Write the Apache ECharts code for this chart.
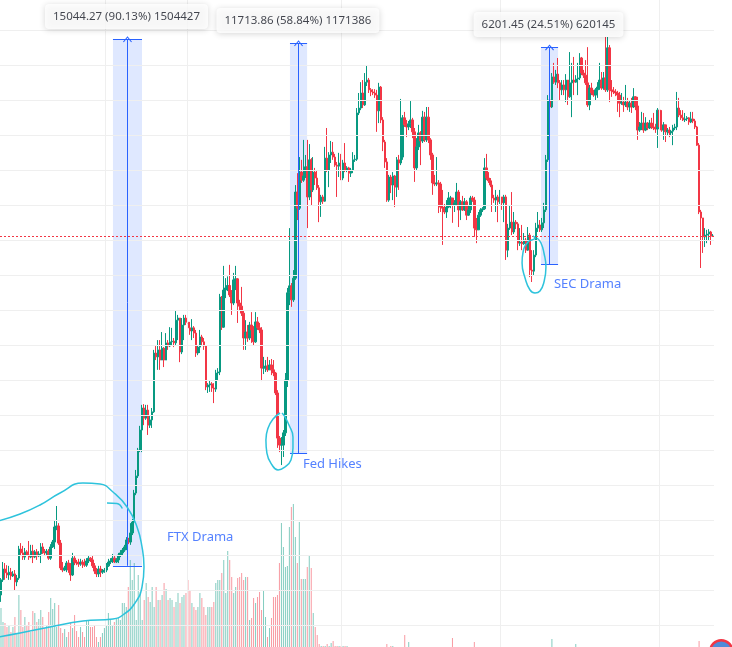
<!DOCTYPE html>
<html><head><meta charset="utf-8">
<script src="https://cdn.jsdelivr.net/npm/echarts@6/dist/echarts.min.js"></script>
<style>html,body{margin:0;padding:0;background:#fff}#c{width:732px;height:647px}</style>
</head><body><div id="c"></div>
<script>
const firstOpen = 15857;
const closes = [
16290,16600,16490,16430,16510,16400,16460,
16230,16340,17170,17060,16940,17090,17000,
16940,17110,16940,17090,16970,17030,
17230,17090,17060,17110,16910,17230,17370,
17800,17830,17340,16630,16570,16630,
16770,16570,16430,16910,16800,16770,
16740,16800,16740,16710,16830,16910,16860,
16690,16540,16460,16600,16510,16540,
16570,16690,16800,16830,16910,16800,16860,
17000,17060,17140,17230,17430,17370,
17630,17940,18770,19260,20000,20570,
21200,20910,21140,20710,20860,21090,
22770,22660,22860,22570,22910,22570,23060,22970,23090,23110,
23060,23710,23770,22800,23570,23770,23650,
23490,23400,23490,23340,
22770,22940,23230,23090,22970,21800,21860,21890,21770,21740,
22200,22230,24370,23510,24570,24630,24700,
24430,24200,24860,24890,
24200,24110,23910,23200,23370,23200,23570,23430,23090,23660,
23490,23430,22340,22340,22400,
22290,22430,22290,22200,21630,20340,
20140,20140,20490,22000,
24490,24690,24290,24910,27370,26910,27940,27710,27830,28090,
27230,28290,27430,27940,27770,27490,27090,27230,27110,28340,
28000,28430,28510,28370,28140,28110,28200,27770,28200,28000,
28060,27910,28000,28290,28310,29630,29770,30200,29860,30510,
30570,30290,30230,30200,
30140,29690,30370,29430,28800,28230,27140,
27800,27570,27830,27510,28290,28200,28370,29490,29290,29230,
29320,29430,29090,28060,28660,29060,28830,29510,28860,29510,
28860,28430,27630,27600,
27630,27600,26940,26910,26800,26940,27200,27200,27000,27060,
27370,26860,27090,26860,27090,26710,26860,27200,27140,26340,
26290,26710,26860,26890,28060,27770,27690,27570,27200,27140,
27230,27090,27230,27060,27230,25710,26340,26510,26230,26510,
26460,25910,25940,25890,26000,25710,26140,25140,25110,25570,
26340,26430,26290,26490,26860,28290,30000,29800,30660,30510,
30740,30490,30290,30430,30290,30570,30090,30490,30570,30510,
30600,30630,31200,30770,30710,30490,
29860,30340,30200,30140,30290,30370,30570,30340,30630,30290,
31490,30290,30260,30230,30200,30140,29910,29940,29860,29940,
29800,29910,29800,30090,29830,29140,29230,29340,29140,29340,
29200,29340,29230,29200,29170,29710,29230,29140,29290,29090,
29140,29060,29110,29200,29230,29770,29570,29490,29430,29460,
29490,29370,29460,29400,29230,28710,26800,26630,26090,26140,
26170,26230,26110,26110
];
const highs = [
16340,16800,16770,16710,16690,16630,16540,
16570,16430,17260,17340,17260,17200,17140,
17400,17290,17290,17140,17170,17110,
17340,17340,17170,17170,17170,17310,17430,
18000,18400,17910,17430,16800,16690,
16830,16860,16770,17060,16970,16860,
16890,16890,16860,16890,16910,16970,16940,
16970,16770,16630,16690,16690,16600,
16630,16770,16890,16910,17030,16970,16910,
17060,17140,17200,17290,17510,17490,
17910,18030,18860,19430,20060,20690,
21290,21310,21290,21290,20970,21200,
22860,22970,23140,23140,23370,22940,23340,23140,23510,23490,
23200,23970,23860,23770,23770,23860,23860,
24260,23660,23740,23540,
23430,23000,23430,23290,23200,23000,21910,22000,21940,21910,
22290,22340,24460,24400,25260,24910,24960,
25290,24570,25060,25260,
24910,24290,24660,24000,23710,23570,23660,23940,23540,23940,
23800,23630,23510,22660,22570,
22660,22570,22600,22570,22230,21710,
20400,20370,20570,22200,
24630,26340,24770,25140,27570,27910,28370,28290,28860,28430,
28860,28740,28340,28370,28060,28000,27570,27290,27290,28660,
29200,28510,28830,28800,28460,28230,28490,28460,28290,28770,
28110,28090,28060,28510,28430,29770,30200,30510,30570,30770,
31000,30630,30340,30310,
30310,30290,30490,30400,29510,28860,28340,
27860,27860,27940,27860,28370,28430,30030,29570,29660,29430,
29400,29970,29490,29200,28910,29290,29110,29690,29660,29800,
29800,28910,28490,27860,
28370,27710,27660,27430,27030,27140,27370,27260,27200,27140,
27630,27430,27140,27260,27200,27140,27000,27260,27260,27230,
26630,26800,26910,26940,28340,28460,27940,27770,27660,27290,
27430,27290,27430,27200,27290,27290,26460,27000,27370,26800,
26570,26510,26340,26430,26200,26060,26370,26200,25710,25710,
26490,26800,26570,26630,27060,28430,30140,30140,30770,31060,
30860,31200,30570,30570,30570,30740,30570,31370,31060,31230,
30710,31060,31340,31230,30860,31140,
31510,30430,30490,30290,30340,30510,31060,30800,30800,31800,
31800,31570,30570,30370,30310,30260,30230,30200,30090,30430,
30060,30000,30060,30340,30110,30090,29370,29660,29630,29510,
29370,29430,29490,29630,29320,29770,30060,29710,29370,29230,
29200,29230,29140,29290,29320,30230,30060,29710,29710,29630,
29540,29510,29660,29660,29460,29260,28770,26860,26630,26340,
26290,26310,26260,26170
];
const lows = [
15660,16230,16290,16340,16290,16290,16370,
16000,16110,16290,16970,16860,16860,16970,
16860,16910,16770,16910,16860,16940,
16770,17030,16970,17000,16860,16860,17200,
17170,17710,17290,16570,16510,16540,
16510,16490,16260,16400,16710,16710,
16660,16690,16630,16660,16660,16770,16800,
16630,16460,16370,16370,16370,16460,
16490,16510,16660,16740,16770,16770,16770,
16770,16940,17000,17090,17140,17310,
17290,17570,17890,18710,19200,19940,
19940,20710,20860,20430,20630,20630,
21060,22570,22290,22290,22710,22370,22570,22860,22940,23000,
22940,23000,23140,22510,22740,23140,23570,
23430,23290,23140,23200,
22660,22710,22770,22970,22860,21710,21630,21660,21660,21340,
21660,22000,22140,23430,23490,24340,24540,
24370,23860,24140,24570,
23630,24000,23830,22860,22860,23090,23140,23060,23000,23060,
23430,23340,21970,22170,22230,
22230,22290,22140,22110,21570,20060,
19940,19570,19800,20400,
21800,24140,24090,24230,24860,26570,26860,27630,27660,27770,
26340,27140,27000,27370,27570,27430,26510,26660,27030,27090,
27940,27510,28200,28290,28090,27230,27800,27710,27710,27940,
27940,27660,27800,27910,28230,28260,29570,29710,29770,29830,
30400,30200,30110,30140,
30060,29090,29340,29340,28540,28060,27090,
27090,27340,27140,26940,27230,27430,28140,28290,29230,28940,
29140,29200,28910,27660,28000,28570,28140,28770,28800,28800,
28770,28290,27290,27540,
27540,26770,26800,25860,26740,26630,26910,26910,26490,26800,
27000,26370,26570,26830,26830,26570,26690,26770,27090,26090,
25910,26290,26660,26800,26860,27710,27630,27510,26800,27060,
26800,26510,27030,26860,26510,25430,25510,26290,26140,26170,
26310,25710,25830,25710,25860,25630,25690,24940,24800,25000,
25510,26230,26230,26230,26340,26800,28230,29710,29770,30460,
30430,30340,30000,30140,30140,29940,29860,30060,29510,30140,
30490,30140,30570,30710,30630,30430,
29800,29710,30140,30090,30000,30060,30290,30290,30290,30230,
30230,29940,30090,30170,30110,29660,29510,29860,29660,29800,
29710,29660,29630,29770,29710,28860,29090,29140,29060,29110,
29140,29170,29170,29140,29060,28630,29140,29090,28860,28800,
29000,28940,29000,28710,29140,29140,29510,29430,29400,29370,
29400,29290,29340,29340,29170,28690,26740,25200,25630,25800,
25910,26000,25860,26090
];
const volumes = [
39,25,24,20,22,15,20,30,14,52,37,20,30,22,25,15,36,34,25,28,
37,30,19,22,35,49,38,44,20,42,19,14,18,10,15,24,19,32,16,10,
20,15,10,27,27,20,20,22,10,5,10,14,19,22,34,27,22,25,28,30,
27,44,44,40,60,87,67,84,27,72,55,27,47,64,50,45,60,
40,60,47,47,52,64,58,47,49,47,40,45,54,44,50,52,54,67,57,44,
40,37,40,54,49,40,32,40,40,40,45,64,67,67,74,87,54,96,87,70,
54,60,69,70,74,67,70,70,27,29,49,44,50,55,37,56,30,10,19,29,
50,50,52,84,124,100,80,
81,120,140,143,110,84,125,68,68,68,80,92,79,34,20,12,3,1,1,1,
3,1,4,6,1,1,1,1,1,1,1,0,0,0,0,0,0,0,0,0,
0,0,0,0,0,0,0,0,0,0,3,0,1,1,0,0,0,0,0,12,
0,5,0,0,0,0,0,0,0,0,0,0,0,0,0,
0,0,0,0,0,0,0,0,9,0,0,0,0,0,0,0,0,0,0,5,
0,0,0,0,0,0,0,0,0,0,0,0,0,0,0,0,0,0,0,0,
0,0,0,0,0,0,0,0,0,0,0,0,0,0,0,0,0,0,8,0,
0,0,0,0,0,0,0,0,0,0,3,0,0,0,0,0,
0,0,0,0,0,0,0,0,0,0,0,0,0,0,0,0,0,0,0,0,
0,0,0,0,0,0,0,0,0,0,0,0,0,0,0,0,0,0,0,0,
0,0,0,0,0,0,0,0,0,0,0,0,0,0,0,0,6,0,0,0,
0,0,0,0
];
// visible price window and horizontal price grid levels
const priceMin = 14371.4;
const priceMax = 32857.1;
const priceLevels = [15000,16000,17000,18000,19000,20000,21000,22000,23000,24000,25000,26000,27000,28000,29000,30000,31000,32000];
// month separators (bar index)
const monthLines = [52.3, 93.5, 171.0, 250.9, 330.8];
// price-range measurements
const measureStart = [56.3, 145.3, 271.5];
const measureEnd = [70.9, 153.9, 280.1];
const measureMid = [63.6, 149.6, 275.8];
const measureBase = [16691.5, 19908.0, 25301.7];
const measureTop = [31735.8, 31621.8, 31503.1];
const measureText = ['15044.27 (90.13%) 1504427', '11713.86 (58.84%) 1171386', '6201.45 (24.51%) 620145'];
const measureLabelX = [63.1, 149.3, 275.3];
const measureLabelY = [32386, 32271, 32157];
// text notes
const noteText = ['FTX Drama', 'Fed Hikes', 'SEC Drama'];
const noteX = [83.5, 151.8, 278.0];
const noteY = [17514, 19600, 24743];
// hand-drawn marks [bar index, price]
const ftxBlob = [[-1.5,17971],[9.6,18171],[19.6,18429],[29.7,18771],[41.2,19057],[49.8,19029],[56.3,18800],[63.4,18371],[68.4,17800],[70.9,17229],[71.9,16657],[70.9,16086],[67.4,15629],[61.3,15286],[56.3,15171],[41.2,15114],[24.6,14943],[9.6,14771],[-1.5,14657]];
const ftxHook = [[53.3,18486],[58.3,18470],[61.0,18330]];
const fedLoop = [[140.3,21057],[136.8,20886],[134.3,20629],[133.2,20286],[133.7,19914],[136.3,19571],[139.3,19429],[142.8,19514],[145.8,19714],[146.8,20057],[146.8,20371],[144.8,20714],[142.8,20943],[141.3,21057]];
const secLoop = [[267.5,26114],[268.5,26057],[265.0,25943],[262.5,25657],[262.0,25343],[263.5,24914],[266.0,24571],[268.5,24486],[271.0,24543],[273.0,24800],[274.0,25229],[273.0,25629],[271.5,25914],[269.5,26057]];

const UP = '#089981', DOWN = '#F23645', BLUE = '#2962FF', CYAN = '#2ec3dc', GRID = '#efefef';
const N = closes.length;
const cats = closes.map((_, i) => i);
const opens = closes.map((c, i) => i === 0 ? firstOpen : closes[i - 1]);
const ohlc = closes.map((c, i) => {
  const o = opens[i];
  return [o, c, Math.min(lows[i], o, c), Math.max(highs[i], o, c)];
});
const volData = volumes.map((v, i) => ({
  value: v,
  itemStyle: { color: closes[i] >= opens[i] ? 'rgba(8,153,129,0.5)' : 'rgba(242,54,69,0.5)' }
}));
const chevron = 'path://M0,8 L5,0 L10,8 L9,8.8 L5,2.2 L1,8.8 Z';
const measureLines = [];
for (let k = 0; k < measureStart.length; k++) {
  measureLines.push([{ coord: [measureStart[k], measureBase[k]] }, { coord: [measureEnd[k], measureBase[k]] }]);
  measureLines.push([{ coord: [measureStart[k], measureTop[k]] }, { coord: [measureEnd[k], measureTop[k]] }]);
  measureLines.push([{ coord: [measureMid[k], measureBase[k]], symbol: 'none' },
                     { coord: [measureMid[k], measureTop[k]], symbol: chevron, symbolSize: [9, 6] }]);
}
const measureAreas = measureStart.map((s, k) => [{ coord: [s, measureBase[k]] }, { coord: [measureEnd[k], measureTop[k]] }]);

const curve = (data) => ({
  type: 'line', xAxisIndex: 1, yAxisIndex: 0, data: data, smooth: 0.5, showSymbol: false,
  symbol: 'none', silent: true, z: 6, lineStyle: { color: CYAN, width: 1.5 }
});

const chart = echarts.init(document.getElementById('c'), null, { renderer: 'canvas' });
chart.setOption({
  animation: false,
  backgroundColor: '#ffffff',
  textStyle: { fontFamily: 'Noto Sans' },
  grid: [
    { left: 0, right: 18, top: 0, height: 647 },
    { left: 0, right: 18, top: 447, height: 200 }
  ],
  xAxis: [
    { type: 'category', gridIndex: 0, data: cats, show: false, boundaryGap: true },
    { type: 'value', gridIndex: 0, min: -0.5, max: N - 0.5, show: false },
    { type: 'category', gridIndex: 1, data: cats, show: false, boundaryGap: true }
  ],
  yAxis: [
    { type: 'value', gridIndex: 0, min: priceMin, max: priceMax, show: false },
    { type: 'value', gridIndex: 1, min: 0, max: 200, show: false }
  ],
  graphic: [
    { type: 'circle', left: 709, top: 639, shape: { r: 11 }, silent: true,
      style: { fill: '#4f8ad8', stroke: DOWN, lineWidth: 2.5 } }
  ],
  series: [
    { type: 'line', xAxisIndex: 1, yAxisIndex: 0, data: [], silent: true, z: 0,
      markLine: { silent: true, symbol: 'none', label: { show: false },
        lineStyle: { color: GRID, type: 'solid', width: 1 },
        data: monthLines.map(v => ({ xAxis: v })).concat(priceLevels.map(p => ({ yAxis: p }))) } },
    { type: 'bar', xAxisIndex: 2, yAxisIndex: 1, data: volData, barWidth: 1, silent: true, z: 1 },
    { type: 'line', xAxisIndex: 1, yAxisIndex: 0, data: [], silent: true, z: 1,
      markArea: { silent: true, itemStyle: { color: 'rgba(41,98,255,0.15)' }, data: measureAreas } },
    { type: 'candlestick', xAxisIndex: 0, yAxisIndex: 0, data: ohlc, barWidth: 2, z: 3, silent: true,
      itemStyle: { color: UP, color0: DOWN, borderColor: UP, borderColor0: DOWN, borderWidth: 1 },
      markLine: { silent: true, symbol: 'none', label: { show: false },
        lineStyle: { color: DOWN, type: [2, 2], width: 1 },
        data: [{ yAxis: closes[N - 1] }] } },
    { type: 'line', xAxisIndex: 1, yAxisIndex: 0, data: [], silent: true, z: 4,
      markLine: { silent: true, symbol: 'none', label: { show: false },
        lineStyle: { color: BLUE, type: 'solid', width: 1 }, data: measureLines } },
    curve(ftxBlob), curve(ftxHook), curve(fedLoop), curve(secLoop),
    { type: 'scatter', xAxisIndex: 1, yAxisIndex: 0, symbolSize: 0, silent: true, z: 8,
      data: noteText.map((t, k) => ({ value: [noteX[k], noteY[k]], label: { formatter: t } })),
      label: { show: true, position: 'right', distance: 0, color: BLUE, fontSize: 13, fontFamily: 'Noto Sans' } },
    { type: 'scatter', xAxisIndex: 1, yAxisIndex: 0, symbolSize: 0, silent: true, z: 9,
      data: measureText.map((t, k) => ({ value: [measureLabelX[k], measureLabelY[k]], label: { formatter: t } })),
      label: { show: true, position: 'inside', color: '#131722', fontSize: 11.5, lineHeight: 13,
        fontFamily: 'Noto Sans', backgroundColor: '#ffffff', borderRadius: 4, padding: [6, 8],
        shadowBlur: 6, shadowColor: 'rgba(0,0,0,0.2)', shadowOffsetY: 1 } }
  ]
});
</script>
</body></html>
